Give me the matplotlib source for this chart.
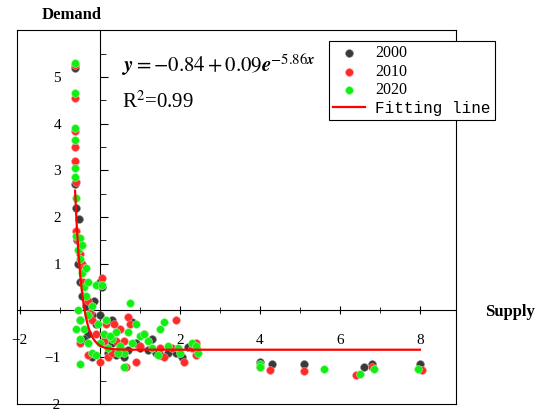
import numpy as np
import matplotlib
matplotlib.use("Agg")
import matplotlib.pyplot as plt
from matplotlib.ticker import FixedLocator

plt.rcParams['font.family'] = ['Liberation Serif']
plt.rcParams['mathtext.fontset'] = 'stix'

x2000 = [-0.62,-0.62,-0.6,-0.52,-0.58,-0.55,-0.5,-0.45,-0.35,-0.2,-0.1,0.0,0.05,0.0,-0.3,-0.4,0.1,0.3,0.5,0.6,0.8,1.0,1.2,1.4,1.5,1.7,1.9,2.05,2.4,2.2,-0.2,0.2,0.4,0.7,4.0,4.3,5.1,6.6,6.8,8.0,0.9,-0.5,-0.15,0.3,1.3]
y2000 = [5.2,2.7,2.2,1.95,1.5,1.0,0.6,0.3,0.1,-0.1,-0.3,-0.1,0.5,0.6,-0.5,-0.6,-0.65,-0.7,-0.8,-1.0,-0.25,-0.8,-0.85,-0.9,-0.95,-0.9,-0.9,-1.0,-0.8,-0.78,-1.0,-0.9,-0.95,-0.85,-1.1,-1.15,-1.15,-1.2,-1.15,-1.15,-0.7,-0.2,0.2,-0.2,-0.6]
x2010 = [-0.62,-0.62,-0.62,-0.62,-0.62,-0.6,-0.6,-0.55,-0.5,-0.45,-0.4,-0.42,0.0,0.05,0.1,-0.3,-0.2,-0.1,0.0,0.2,0.5,0.6,0.7,0.75,0.65,0.9,1.0,1.5,1.6,1.9,1.8,2.1,2.4,2.4,2.3,0.3,0.4,-0.3,-0.5,4.0,4.25,5.1,6.4,6.8,8.05,0.35,1.1,-0.25,0.15]
y2010 = [5.25,4.55,3.85,3.5,3.2,2.75,1.7,1.5,1.2,1.0,0.9,0.6,0.55,0.7,-0.65,0.2,-0.2,-0.5,-1.1,-1.0,-0.4,-0.65,-0.15,-0.3,-1.2,-1.1,-0.75,-0.8,-1.0,-0.2,-0.8,-1.1,-0.7,-0.95,-0.8,-0.9,-0.65,-0.95,-0.7,-1.2,-1.27,-1.3,-1.38,-1.22,-1.27,-0.3,-0.5,-0.05,-0.3]
x2020 = [-0.62,-0.62,-0.62,-0.62,-0.62,-0.62,-0.6,-0.6,-0.55,-0.5,-0.45,-0.5,-0.45,-0.4,-0.35,-0.3,-0.1,0.05,-0.2,-0.3,-0.5,-0.6,-0.5,-0.3,-0.2,-0.1,0.0,0.1,0.2,0.3,0.4,0.5,0.6,0.7,0.75,0.8,0.9,1.0,1.1,1.2,1.3,1.5,1.45,1.6,1.7,1.95,2.0,2.3,2.4,2.45,0.6,-0.5,4.0,4.0,5.6,6.5,6.85,7.95,-0.55,-0.4,0.15,-0.05,0.25,0.45,-0.35]
y2020 = [5.3,4.65,3.9,3.65,3.05,2.85,2.4,1.6,1.3,1.55,1.4,1.1,0.8,0.5,0.3,0.6,0.55,0.55,0.1,-0.1,-0.2,-0.4,-0.6,-0.7,-0.9,-0.95,-0.7,-0.5,-0.8,-0.6,-0.45,-0.75,-0.9,-0.45,0.15,-0.7,-0.3,-0.55,-0.5,-0.65,-0.8,-0.4,-0.95,-0.25,-0.75,-0.8,-0.9,-0.7,-0.75,-0.9,-1.2,-1.15,-1.15,-1.2,-1.25,-1.35,-1.25,-1.25,0.0,-0.4,-0.2,-0.3,-0.55,-0.9,0.9]
fit_a, fit_b, fit_c = -0.84, 0.09, -5.86

fig = plt.figure(figsize=(5.5, 4.19), dpi=100)
ax = fig.add_axes([0.031, 0.036, 0.798, 0.892])
ax.set_xlim(-2.07, 8.9)
ax.set_ylim(-2, 6)

kw = dict(s=32, linewidths=0.4, zorder=3)
ax.scatter(x2000, y2000, color='#3a3a3a', edgecolors='#888888', label='2000', **kw)
ax.scatter(x2010, y2010, color='#ff2a2a', edgecolors='#ff9090', label='2010', **kw)
ax.scatter(x2020, y2020, color='#11ee11', edgecolors='#99ff99', label='2020', **kw)
xf = np.linspace(-0.62, 8.0, 400)
ax.plot(xf, fit_a + fit_b * np.exp(fit_c * xf), color='red', lw=1.6, zorder=4, label='Fitting line')

ax.spines['left'].set_position(('data', 0))
ax.spines['bottom'].set_position(('data', 0))
ax.spines['top'].set_visible(False)
ax.spines['right'].set_visible(False)
frame = fig.add_axes(ax.get_position(), facecolor='none', zorder=-1)
frame.set_xticks([]); frame.set_yticks([])
ax.set_zorder(1); ax.patch.set_alpha(0)

ax.xaxis.set_major_locator(FixedLocator([-2, 2, 4, 6, 8]))
ax.xaxis.set_minor_locator(FixedLocator([-1, 1, 3, 5, 7]))
ax.yaxis.set_major_locator(FixedLocator([-2, -1, 1, 2, 3, 4, 5]))
ax.yaxis.set_minor_locator(FixedLocator([-1.5, -0.5, 0.5, 1.5, 2.5, 3.5, 4.5, 5.5]))
ax.tick_params(axis='x', which='both', direction='inout', labelsize=11, pad=14)
ax.tick_params(axis='y', which='both', direction='in', labelsize=11, pad=28)
ax.tick_params(which='major', length=6)
ax.tick_params(which='minor', length=4)

fig.text(0.13, 0.945, 'Demand', fontsize=12, fontweight='bold', ha='center', va='bottom')
fig.text(0.882, 0.255, 'Supply', fontsize=12, fontweight='bold', ha='left', va='center')

ax.text(0.55, 5.25, r'$\mathbfit{y} = -0.84+0.09\mathbfit{e}^{-5.86\mathbfit{x}}$', fontsize=15, va='center')
ax.text(0.55, 4.45, r'R$^2$=0.99', fontsize=15, va='center')

leg = fig.legend(loc='upper left', bbox_to_anchor=(0.583, 0.922), fontsize=11.5,
                 frameon=True, fancybox=False, edgecolor='black', framealpha=1,
                 handletextpad=0.6, borderpad=0.3, labelspacing=0.15, handlelength=2.0)
leg.get_frame().set_linewidth(0.8)
for t in leg.get_texts():
    if t.get_text() == 'Fitting line':
        t.set_family('Liberation Mono')

fig.savefig('out.png', dpi=100)
